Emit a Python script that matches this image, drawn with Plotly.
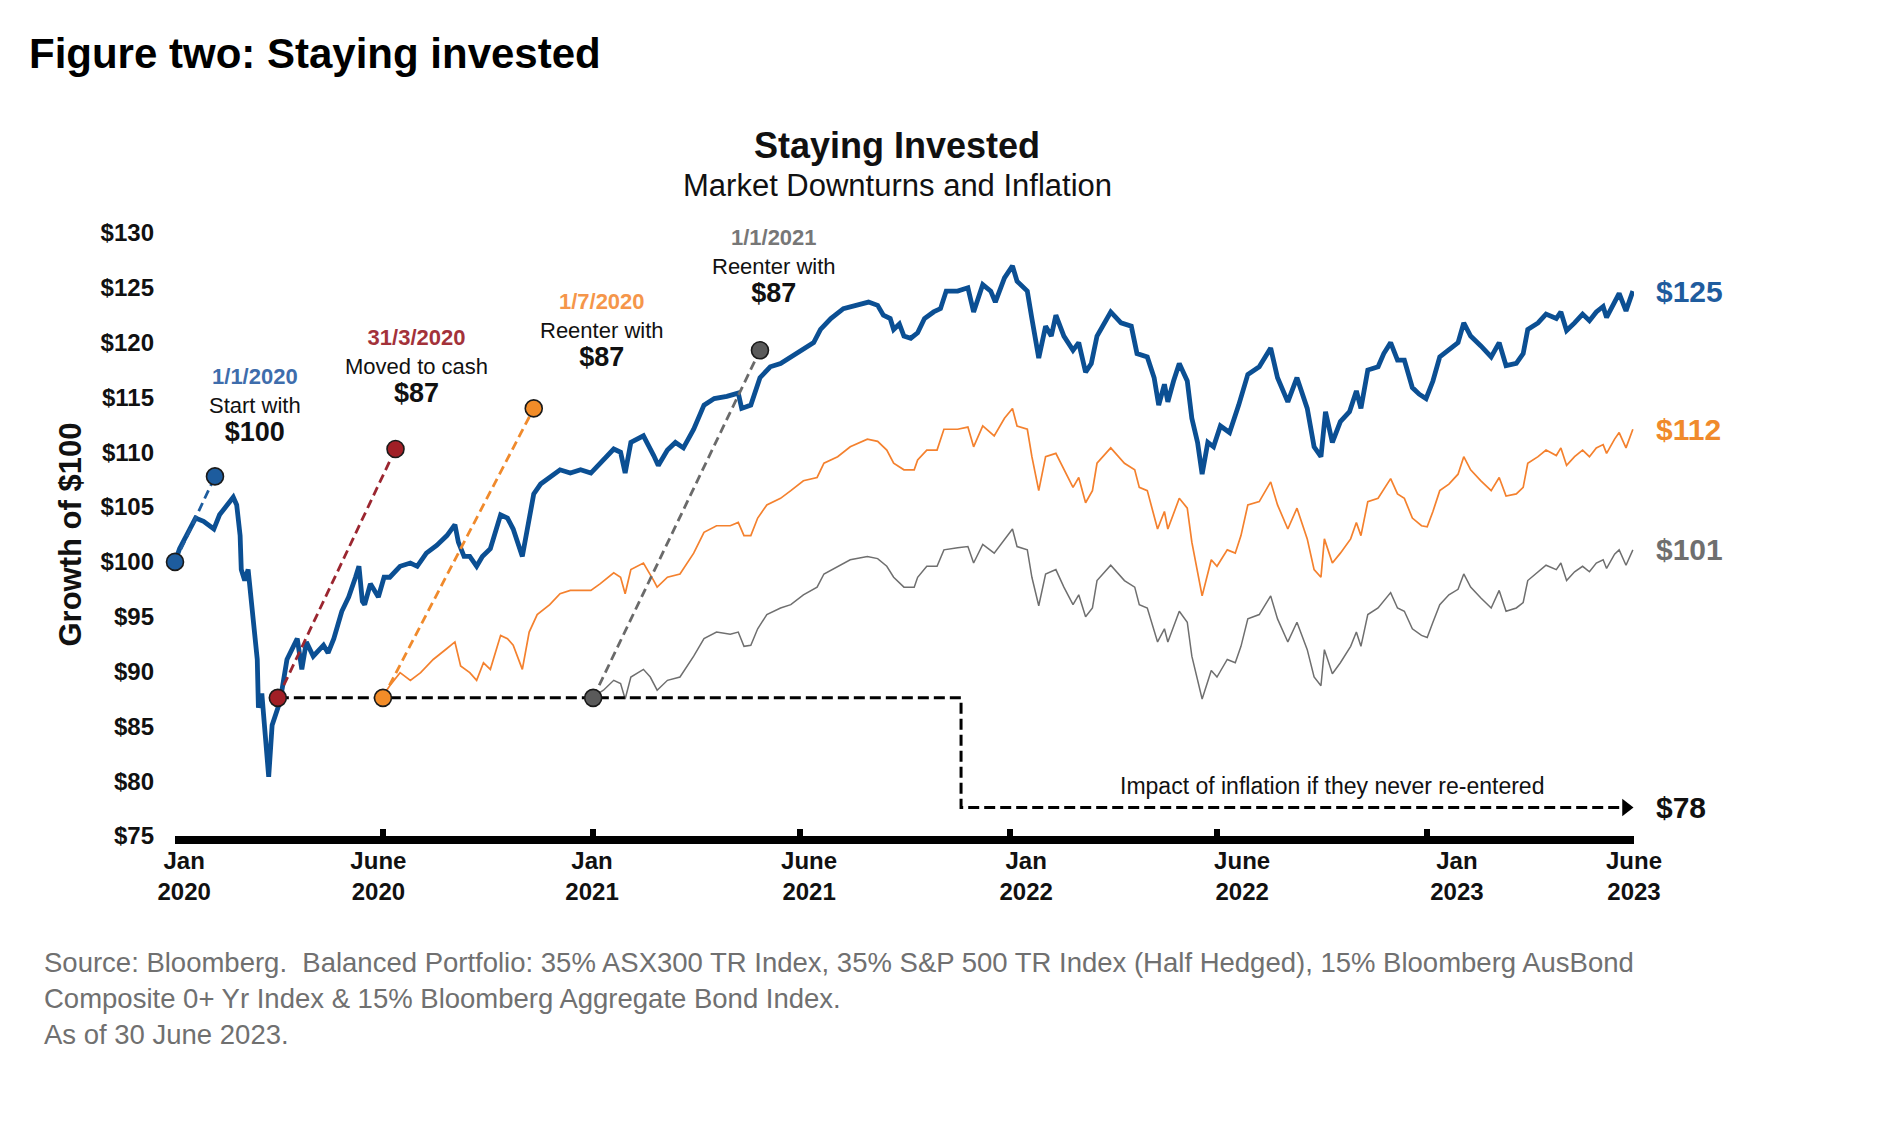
import pandas as pd
import plotly.graph_objects as go

START = pd.Timestamp("2020-01-01")

# ---------------- data (x = days since 1 Jan 2020, y = growth of $100) ----------------
blue_days = [0, 4, 10, 18, 25, 34, 39, 51, 54, 57, 58, 61, 64, 66, 69, 72, 73, 76, 79, 82,
             85, 88, 92, 98, 107, 111, 115, 121, 130, 134, 139, 146, 152, 158, 161, 164, 166,
             171, 178, 183, 188, 197, 206, 212, 220, 229, 238, 245, 248, 253, 258, 264, 269,
             276, 285, 291, 296, 304, 310, 314, 320, 328, 337, 346, 355, 364, 372, 384, 390,
             394, 399, 410, 419, 423, 431, 438, 445, 454, 463, 472, 483, 493, 496, 504, 512,
             521, 530, 539, 547, 559, 565, 574, 585, 597, 607, 615, 620, 626, 629, 634, 638,
             644, 650, 656, 664, 670, 675, 685, 694, 699, 707, 714, 718, 726, 733, 737, 746,
             750, 756, 762, 767, 771, 778, 786, 791, 797, 802, 807, 819, 828, 837, 842, 851,
             857, 861, 866, 869, 874, 879, 886, 890, 895, 899, 904, 909, 915, 923, 931, 939,
             949, 959, 965, 974, 982, 991, 997, 1003, 1007, 1013, 1020, 1028, 1034, 1038, 1044,
             1053, 1058, 1064, 1070, 1076, 1083, 1089, 1095, 1101, 1107, 1115, 1123, 1128, 1134,
             1143, 1152, 1159, 1165, 1174, 1180, 1184, 1193, 1200, 1209, 1213, 1218, 1225, 1232,
             1238, 1244, 1250, 1253, 1260, 1264, 1270, 1276]
blue_values = [100.0, 101.2, 102.4, 104.0, 103.7, 103.0, 104.3, 105.9, 105.2, 102.4, 99.3, 98.3,
               99.3, 97.4, 94.6, 91.1, 86.7, 88.0, 84.2, 80.4, 85.1, 86.1, 87.3, 91.1, 93.0, 90.2,
               92.7, 91.4, 92.4, 91.7, 93.0, 95.5, 96.8, 98.6, 99.6, 96.4, 96.1, 98.0, 96.8, 98.6,
               98.6, 99.6, 99.9, 99.6, 100.8, 101.5, 102.4, 103.4, 101.8, 100.5, 100.5, 99.6,
               100.5, 101.2, 104.3, 104.0, 103.0, 100.5, 103.7, 106.2, 107.1, 107.7, 108.4, 108.1,
               108.4, 108.1, 109.0, 110.3, 110.0, 108.1, 110.9, 111.5, 109.7, 108.8, 110.2, 110.9,
               110.4, 112.1, 114.3, 114.9, 115.1, 115.4, 114.0, 114.3, 116.8, 117.8, 118.1, 118.7,
               119.3, 120.0, 121.2, 122.2, 123.1, 123.4, 123.7, 123.4, 122.5, 122.2, 121.2, 121.7,
               120.6, 120.4, 120.9, 122.2, 122.8, 123.1, 124.7, 124.7, 125.0, 122.8, 125.3, 124.7,
               123.7, 125.9, 127.0, 125.6, 124.7, 122.2, 118.6, 121.5, 120.6, 122.5, 120.6, 119.3,
               120.0, 117.3, 118.1, 120.6, 122.8, 121.8, 121.5, 119.0, 118.7, 116.8, 114.3, 116.2,
               114.6, 116.5, 118.1, 116.5, 113.1, 110.9, 108.0, 110.9, 110.5, 112.4, 111.8, 114.3,
               117.1, 117.8, 119.5, 116.8, 114.6, 116.8, 114.0, 110.5, 109.6, 113.7, 110.9, 112.8,
               113.7, 115.6, 114.0, 117.5, 117.8, 119.0, 120.0, 118.4, 118.4, 115.9, 115.3, 114.9,
               116.5, 118.7, 119.3, 120.0, 121.8, 120.6, 119.7, 118.7, 120.0, 117.9, 118.1, 119.0,
               121.2, 121.8, 122.6, 122.2, 122.8, 121.1, 121.8, 122.6, 122.0, 122.8, 123.3, 122.3,
               123.7, 124.5, 122.9, 124.7]

orange_days = [182, 188, 197, 206, 215, 226, 238, 245, 250, 258, 264, 270, 276, 285, 291, 296,
               304, 310, 317, 328, 337, 346, 355, 364, 372, 384, 390, 394, 399, 410, 419, 422,
               431, 442, 454, 463, 474, 486, 493, 498, 504, 510, 518, 530, 539, 550, 562, 568,
               580, 591, 606, 615, 623, 629, 638, 647, 650, 658, 667, 673, 685, 694, 699, 707,
               717, 726, 733, 737, 746, 750, 756, 762, 771, 778, 786, 791, 797, 803, 807, 819,
               831, 840, 844, 851, 860, 866, 869, 879, 886, 890, 899, 907, 912, 921, 928, 933,
               939, 949, 959, 965, 974, 982, 991, 997, 1003, 1006, 1013, 1020, 1029, 1034, 1038,
               1044, 1053, 1064, 1070, 1076, 1083, 1091, 1096, 1101, 1107, 1115, 1123, 1128, 1134,
               1143, 1152, 1159, 1165, 1174, 1180, 1184, 1193, 1200, 1209, 1213, 1218, 1225, 1232,
               1238, 1244, 1250, 1253, 1260, 1264, 1270, 1276]
orange_values = [87.8, 88.7, 89.9, 89.2, 89.9, 91.1, 92.1, 92.7, 90.5, 89.9, 89.2, 90.8, 90.2,
                 93.3, 93.0, 92.4, 90.2, 93.6, 95.2, 96.1, 97.1, 97.4, 97.4, 97.4, 98.0, 99.0,
                 98.6, 97.1, 99.3, 99.9, 98.3, 97.7, 98.6, 98.9, 100.8, 102.7, 103.3, 103.3, 103.6,
                 102.4, 102.4, 104.0, 105.2, 105.8, 106.5, 107.4, 107.7, 109.0, 109.6, 110.5, 111.2,
                 111.0, 110.2, 109.0, 108.4, 108.4, 109.3, 110.2, 110.2, 112.1, 112.1, 112.3, 110.5,
                 112.4, 111.5, 113.1, 114.0, 112.4, 112.1, 109.6, 106.5, 109.6, 109.9, 108.4, 106.8,
                 107.7, 105.4, 106.5, 109.0, 110.4, 109.0, 108.4, 106.8, 106.5, 103.0, 104.6, 103.0,
                 105.8, 104.9, 101.8, 96.9, 100.2, 99.6, 101.1, 100.8, 102.4, 105.2, 105.5, 107.3,
                 105.2, 103.0, 104.9, 102.1, 99.3, 98.6, 102.1, 99.9, 100.8, 102.1, 103.6, 102.4,
                 105.5, 105.8, 107.6, 106.2, 105.8, 104.0, 103.3, 103.2, 104.6, 106.5, 107.1, 108.0,
                 109.6, 108.4, 107.4, 106.5, 107.7, 106.0, 106.2, 106.8, 109.0, 109.6, 110.2, 109.7,
                 110.4, 108.8, 109.6, 110.2, 109.6, 110.4, 110.7, 109.9, 111.2, 111.8, 110.4, 112.1]

gray_days = [366, 375, 384, 390, 394, 399, 410, 416, 422, 431, 442, 454, 463, 474, 486, 493, 498,
             504, 510, 518, 530, 539, 550, 562, 568, 580, 591, 606, 615, 623, 629, 638, 647, 650,
             658, 667, 673, 685, 694, 699, 707, 717, 726, 733, 737, 746, 750, 756, 762, 771, 778,
             786, 791, 797, 803, 807, 819, 831, 840, 844, 851, 860, 866, 869, 879, 886, 890, 899,
             907, 912, 921, 928, 933, 939, 949, 959, 965, 974, 982, 991, 997, 1003, 1006, 1013,
             1020, 1029, 1034, 1038, 1044, 1053, 1064, 1070, 1076, 1083, 1091, 1096, 1101, 1107,
             1115, 1123, 1128, 1134, 1143, 1152, 1159, 1165, 1174, 1180, 1184, 1193, 1200, 1209,
             1213, 1218, 1225, 1232, 1238, 1244, 1250, 1253, 1260, 1264, 1270, 1276]
gray_values = [87.7, 88.3, 89.2, 88.9, 87.5, 89.5, 90.2, 89.5, 88.3, 89.2, 89.5, 91.4, 93.0, 93.6,
               93.4, 93.6, 92.3, 92.4, 93.9, 95.2, 95.8, 96.1, 97.0, 97.7, 98.9, 99.6, 100.2, 100.5,
               100.3, 99.6, 98.6, 97.7, 97.7, 98.6, 99.6, 99.6, 101.1, 101.3, 101.4, 99.9, 101.6,
               100.8, 102.1, 103.0, 101.4, 101.1, 98.6, 96.0, 98.9, 99.3, 97.7, 96.1, 97.0, 95.0,
               95.8, 98.3, 99.7, 98.3, 97.7, 96.1, 95.8, 92.7, 93.9, 92.7, 95.5, 94.5, 91.4, 87.5,
               90.1, 89.5, 91.1, 90.8, 92.3, 94.8, 95.2, 96.9, 94.8, 92.7, 94.5, 92.0, 89.5, 88.7,
               92.0, 89.8, 90.8, 92.3, 93.6, 92.3, 95.2, 95.8, 97.2, 95.8, 95.5, 93.9, 93.3, 93.1,
               94.5, 96.1, 97.0, 97.5, 98.9, 97.7, 96.7, 95.8, 97.4, 95.5, 95.8, 96.3, 98.3, 99.1,
               99.7, 99.3, 99.9, 98.3, 99.1, 99.6, 99.1, 99.9, 100.2, 99.4, 100.7, 101.1, 99.7, 101.1]

# cash (never re-entered) path, including the inflation drop
cash_days = [90, 688, 688, 1270]
cash_values = [87.6, 87.6, 77.6, 77.6]

# events and their call-out points
event_days = [0, 90, 182, 366]
event_values = [100.0, 87.6, 87.6, 87.6]
callout_days = [35, 193, 314, 512]
callout_values = [107.8, 110.3, 114.0, 119.3]
event_dates_text = ["1/1/2020", "31/3/2020", "1/7/2020", "1/1/2021"]
event_actions = ["Start with", "Moved to cash", "Reenter with", "Reenter with"]
event_amounts = ["$100", "$87", "$87", "$87"]

end_labels = ["$125", "$112", "$101", "$78"]

y_tick_values = [75, 80, 85, 90, 95, 100, 105, 110, 115, 120, 125, 130]
y_tick_labels = ["$75", "$80", "$85", "$90", "$95", "$100", "$105", "$110", "$115",
                 "$120", "$125", "$130"]
x_tick_days = [0, 182, 366, 547, 731, 912, 1096, 1277]
x_label_days = [8, 178, 365, 555, 745, 934, 1122, 1277]
x_tick_labels = ["Jan<br>2020", "June<br>2020", "Jan<br>2021", "June<br>2021",
                 "Jan<br>2022", "June<br>2022", "Jan<br>2023", "June<br>2023"]


def to_dates(days):
    return [START + pd.Timedelta(days=d) for d in days]


# ---------------- styling ----------------
FONT = "Liberation Sans, Arial, sans-serif"
BLUE = "#0B4F93"
ORANGE = "#F4812E"
GRAY = "#6F6F6F"
line_colors = ["#1D5C9E", "#9B2630", "#F08A2C", "#6A6A6A"]
dot_colors = ["#1D5C9E", "#A11F26", "#F28C28", "#5A5A5A"]
date_colors = ["#3E6DAC", "#A3323A", "#F5964A", "#777777"]
end_colors = ["#1F5C9E", "#F08A2C", "#6F6F6F", "#111111"]

fig = go.Figure()

fig.add_trace(go.Scatter(x=to_dates(gray_days), y=gray_values, mode="lines",
                         line=dict(color=GRAY, width=1.5), hoverinfo="skip", showlegend=False))
fig.add_trace(go.Scatter(x=to_dates(orange_days), y=orange_values, mode="lines",
                         line=dict(color=ORANGE, width=1.7), hoverinfo="skip", showlegend=False))
fig.add_trace(go.Scatter(x=to_dates(blue_days), y=blue_values, mode="lines",
                         line=dict(color=BLUE, width=4.8), hoverinfo="skip", showlegend=False))

# cash line
fig.add_trace(go.Scatter(x=to_dates(cash_days), y=cash_values, mode="lines",
                         line=dict(color="black", width=3, dash="11px,5px"),
                         hoverinfo="skip", showlegend=False))
fig.add_trace(go.Scatter(x=to_dates(cash_days[-1:]), y=cash_values[-1:], mode="markers",
                         marker=dict(symbol="triangle-right", size=15, color="black"),
                         cliponaxis=False, hoverinfo="skip", showlegend=False))

# dashed connectors and dots
for i in range(len(event_days)):
    xs = to_dates([event_days[i], callout_days[i]])
    ys = [event_values[i], callout_values[i]]
    fig.add_trace(go.Scatter(x=xs, y=ys, mode="lines",
                             line=dict(color=line_colors[i], width=2.8, dash="9px,5px"),
                             hoverinfo="skip", showlegend=False))
    fig.add_trace(go.Scatter(x=xs, y=ys, mode="markers",
                             marker=dict(size=17, color=dot_colors[i],
                                         line=dict(color="#1a1a1a", width=1.6)),
                             cliponaxis=False, hoverinfo="skip", showlegend=False))

# helper trace for tick-mark axis
fig.add_trace(go.Scatter(x=to_dates([0]), y=[75], xaxis="x2", yaxis="y", mode="markers",
                         marker=dict(opacity=0), hoverinfo="skip", showlegend=False))

x_range = to_dates([0, 1277])

# call-out annotations
callout_pos = [("2020-03-11", 114.3), ("2020-07-30", 117.8), ("2021-01-09", 121.1),
               ("2021-06-08", 126.9)]
for i in range(len(event_days)):
    txt = (f"<span style='color:{date_colors[i]}'><b>{event_dates_text[i]}</b></span><br>"
           f"{event_actions[i]}<br><b><span style='font-size:27px'>{event_amounts[i]}</span></b>")
    fig.add_annotation(x=callout_pos[i][0], y=callout_pos[i][1], xref="x", yref="y",
                       text=txt, showarrow=False, xanchor="center", yanchor="middle",
                       font=dict(family=FONT, size=22, color="#111111"), align="center")

# end labels
end_values = [blue_values[-1], orange_values[-1], gray_values[-1], cash_values[-1]]
for lab, val, col in zip(end_labels, end_values, end_colors):
    fig.add_annotation(x=x_range[1], y=val, xref="x", yref="y", text=f"<b>{lab}</b>",
                       showarrow=False, xanchor="left", yanchor="middle", xshift=20,
                       font=dict(family=FONT, size=30, color=col))

fig.add_annotation(x="2022-10-10", y=79.6, xref="x", yref="y",
                   text="Impact of inflation if they never re-entered", showarrow=False,
                   xanchor="center", yanchor="middle",
                   font=dict(family=FONT, size=23, color="#111111"))

# chart titles
fig.add_annotation(x=0.4949, y=1.1443, xref="paper", yref="paper", text="<b>Staying Invested</b>",
                   showarrow=False, xanchor="center", yanchor="middle",
                   font=dict(family=FONT, size=36, color="#111111"))
fig.add_annotation(x=0.4949, y=1.0796, xref="paper", yref="paper",
                   text="Market Downturns and Inflation",
                   showarrow=False, xanchor="center", yanchor="middle",
                   font=dict(family=FONT, size=31, color="#111111"))

# y axis title
fig.add_annotation(x=0, y=0.5, xref="paper", yref="paper", xshift=-105,
                   text="<b>Growth of $100</b>", textangle=-90, showarrow=False,
                   xanchor="center", yanchor="middle",
                   font=dict(family=FONT, size=31, color="#111111"))

# source
fig.add_annotation(x=-0.0912, y=-0.2687, xref="paper", yref="paper",
                   text=("Source: Bloomberg.  Balanced Portfolio: 35% ASX300 TR Index, 35% S&P 500 TR "
                         "Index (Half Hedged), 15% Bloomberg AusBond<br>Composite 0+ Yr Index & 15% "
                         "Bloomberg Aggregate Bond Index.<br>As of 30 June 2023."),
                   showarrow=False, xanchor="left", yanchor="middle", align="left",
                   font=dict(family=FONT, size=27.5, color="#707070"))

fig.update_layout(
    width=1895, height=1140,
    margin=dict(l=175, r=261, t=233, b=304),
    paper_bgcolor="white", plot_bgcolor="white",
    title=dict(text="<b>Figure two: Staying invested</b>", xref="container", yref="container",
               x=0.0153, y=1 - 53 / 1140, xanchor="left", yanchor="middle",
               font=dict(family=FONT, size=42, color="black")),
    xaxis=dict(range=x_range, tickvals=to_dates(x_label_days), ticktext=x_tick_labels,
               ticks="", showline=False, showgrid=False, zeroline=False,
               ticklabelstandoff=8,
               tickfont=dict(family=FONT, size=24, color="#111111", weight="bold")),
    xaxis2=dict(range=x_range, overlaying="x", anchor="y", side="bottom",
                tickvals=to_dates(x_tick_days), showticklabels=False, ticks="inside",
                ticklen=7, tickwidth=6, tickcolor="black", showline=True, linewidth=8,
                linecolor="black", showgrid=False, zeroline=False),
    yaxis=dict(range=[75, 130], tickvals=y_tick_values, ticktext=y_tick_labels, ticks="",
               showline=False, showgrid=False, zeroline=False, ticklabelstandoff=20,
               tickfont=dict(family=FONT, size=24, color="#111111", weight="bold")),
    showlegend=False,
)

fig.write_html("out.html")
